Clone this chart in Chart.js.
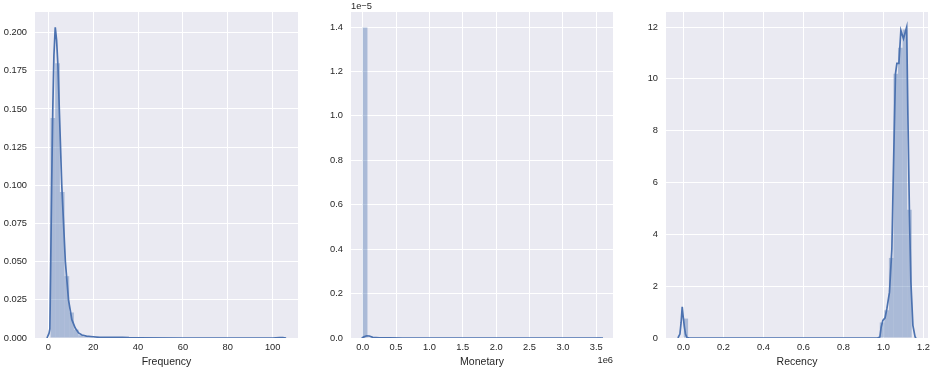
<!DOCTYPE html>
<html>
<head>
<meta charset="utf-8">
<script src="https://cdn.jsdelivr.net/npm/chart.js@4.4.0/dist/chart.umd.min.js"></script>
<style>
  body { margin: 0; background: #fff; width: 933px; height: 377px; overflow: hidden; position: relative; }
  canvas { position: absolute; top: 0; }
</style>
</head>
<body>
<canvas id="freqChart" width="298" height="377" style="left:0px"></canvas>
<canvas id="monChart" width="313" height="377" style="left:300px"></canvas>
<canvas id="recChart" width="313" height="377" style="left:620px"></canvas>
<script>
// ---- Frequency ----
const freqBinStart = 1;
const freqBinWidth = 2.08;
const freqHist = [0.144, 0.180, 0.0956, 0.0405, 0.0167, 0.0055, 0.0018, 0.0008, 0.0005, 0.0004,
                  0.0003, 0.0001, 0.0002, 0.0003, 0.0002, 0.0002, 0.0001, 0, 0, 0,
                  0, 0, 0, 0, 0, 0, 0, 0, 0, 0,
                  0, 0, 0, 0, 0, 0, 0, 0, 0, 0,
                  0, 0, 0, 0, 0, 0, 0, 0, 0.0001, 0.0002];
const freqKdeX = [-0.6, 0.3, 0.7, 1.0, 1.5, 2.0, 2.5, 3.1, 3.7, 4.3, 4.9, 6.0, 7.6, 9.0, 10.5,
                  12.0, 13.5, 15, 17, 20, 23, 27, 30, 33, 36, 40, 60, 80, 100, 103, 104.5, 106];
const freqKdeY = [0, 0.003, 0.006, 0.04, 0.1, 0.15, 0.185, 0.2035, 0.195, 0.178, 0.15, 0.1, 0.05, 0.025, 0.012,
                  0.0065, 0.0033, 0.002, 0.0012, 0.0008, 0.0004, 0.0004, 0.0005, 0.0004, 0.0002, 0.0001, 0, 0, 0, 0.0003, 0.0003, 0];
const freqXTicks = [0, 20, 40, 60, 80, 100];
const freqYTicks = [0, 0.025, 0.05, 0.075, 0.1, 0.125, 0.15, 0.175, 0.2];

// ---- Monetary ----
const monBinStart = 0;
const monBinWidth = 71400;
const monHist = [1.398e-5, 1.6e-8, 8e-9, 4e-9, 2e-9, 1e-9, 1e-9, 0, 0, 0,
                 0, 0, 0, 0, 0, 0, 0, 0, 0, 0,
                 0, 0, 0, 0, 0, 0, 0, 0, 0, 0,
                 0, 0, 0, 0, 0, 0, 0, 0, 0, 0,
                 0, 0, 0, 0, 0, 0, 0, 0, 0, 3e-10];
const monKdeX = [-15000, 20000, 60000, 100000, 150000, 250000, 400000, 600000, 3600000];
const monKdeY = [0, 5e-8, 1e-7, 9e-8, 3e-8, 1e-8, 3e-9, 0, 0];
const monXTicks = [0, 500000, 1000000, 1500000, 2000000, 2500000, 3000000, 3500000];
const monYTicks = [0, 0.2e-5, 0.4e-5, 0.6e-5, 0.8e-5, 1.0e-5, 1.2e-5, 1.4e-5];

// ---- Recency ----
const recBinStart = 0;
const recBinWidth = 0.022826;
const recHist = [0.75, 0, 0, 0, 0, 0, 0, 0, 0, 0,
                 0, 0, 0, 0, 0, 0, 0, 0, 0, 0,
                 0, 0, 0, 0, 0, 0, 0, 0, 0, 0,
                 0, 0, 0, 0, 0, 0, 0, 0, 0, 0,
                 0, 0, 0, 0.6, 1.07, 3.09, 10.2, 11.2, 11.9, 4.95];
const recKdeX = [-0.028, -0.018, -0.012, -0.0065, -0.002, 0.004, 0.01, 0.017, 0.03,
                 0.97, 0.982, 0.9885, 0.997, 1.008, 1.017, 1.03, 1.042, 1.05, 1.06, 1.067, 1.077,
                 1.087, 1.1, 1.116, 1.122, 1.13, 1.137, 1.147, 1.158, 1.163];
const recKdeY = [0, 0.15, 0.6, 1.2, 0.85, 0.45, 0.15, 0.02, 0,
                 0, 0.04, 0.42, 0.68, 0.78, 1.13, 1.77, 3.45, 6.6, 10.2, 10.6, 10.6,
                 11.87, 11.55, 12.0, 8.6, 4.7, 2.16, 0.49, 0.04, 0];
const recXTicks = [0, 0.2, 0.4, 0.6, 0.8, 1.0, 1.2];
const recYTicks = [0, 2, 4, 6, 8, 10, 12];

const BLUE = '#4C72B0';
const TEXT = '#262626';
const FONT = '"Liberation Sans", Arial, sans-serif';

function histPoints(start, width, hist) {
  return hist.map((h, i) => ({ x: start + (i + 0.5) * width, y: h }));
}
function linePoints(xs, ys) {
  return xs.map((x, i) => ({ x: x, y: ys[i] }));
}

// axes background like seaborn darkgrid
const bgPlugin = {
  id: 'bg',
  beforeDraw(chart) {
    const a = chart.chartArea, ctx = chart.ctx;
    ctx.save();
    ctx.fillStyle = '#EAEAF2';
    ctx.fillRect(a.left, a.top, a.right - a.left, a.bottom - a.top);
    ctx.restore();
  }
};

function makePanel(id, cfg) {
  const extra = [bgPlugin];
  if (cfg.offsetText) {
    extra.push({
      id: 'offsets',
      afterDraw(chart) {
        const a = chart.chartArea, ctx = chart.ctx;
        ctx.save();
        ctx.fillStyle = TEXT;
        ctx.font = '9.3px ' + FONT;
        ctx.textBaseline = 'middle';
        ctx.textAlign = 'left';
        ctx.fillText(cfg.offsetText.y, a.left, 6);
        ctx.textAlign = 'right';
        ctx.fillText(cfg.offsetText.x, a.right, 360);
        ctx.restore();
      }
    });
  }
  return new Chart(document.getElementById(id), {
    type: 'bar',
    data: {
      datasets: [
        {
          type: 'line',
          data: linePoints(cfg.kdeX, cfg.kdeY),
          borderColor: BLUE,
          borderWidth: 1.7,
          pointRadius: 0,
          tension: 0,
          fill: false,
          order: 0
        },
        {
          type: 'bar',
          data: histPoints(cfg.binStart, cfg.binWidth, cfg.hist),
          backgroundColor: 'rgba(76,114,176,0.4)',
          borderWidth: 0,
          barPercentage: 1,
          categoryPercentage: 1,
          inflateAmount: 0,
          grouped: false,
          order: 1
        }
      ]
    },
    options: {
      responsive: false,
      animation: false,
      devicePixelRatio: 1,
      layout: { padding: { top: 12, left: 0, right: cfg.padRight || 0, bottom: 0 } },
      plugins: { legend: { display: false }, tooltip: { enabled: false } },
      scales: {
        x: {
          type: 'linear',
          offset: false,
          min: cfg.xMin,
          max: cfg.xMax,
          grid: { color: '#ffffff', lineWidth: 1, drawTicks: false, offset: false },
          border: { display: false },
          ticks: {
            color: TEXT,
            padding: 4,
            maxRotation: 0,
            font: { family: FONT, size: 9.3 },
            callback: cfg.xFmt
          },
          title: {
            display: true,
            text: cfg.title,
            color: TEXT,
            font: { family: FONT, size: 10.5 },
            padding: { top: 2, bottom: 9 }
          },
          afterBuildTicks(scale) { scale.ticks = cfg.xTicks.map(v => ({ value: v })); },
          afterFit(scale) { scale.height = 39; scale.paddingLeft = 0; scale.paddingRight = 0; }
        },
        y: {
          type: 'linear',
          min: 0,
          max: cfg.yMax,
          grid: { color: '#ffffff', lineWidth: 1, drawTicks: false },
          border: { display: false },
          ticks: {
            color: TEXT,
            padding: 8,
            font: { family: FONT, size: 9.3 },
            callback: cfg.yFmt
          },
          afterBuildTicks(scale) { scale.ticks = cfg.yTicks.map(v => ({ value: v })); },
          afterFit(scale) { scale.width = cfg.yWidth; scale.paddingTop = 0; scale.paddingBottom = 0; }
        }
      }
    },
    plugins: extra
  });
}

makePanel('freqChart', {
  binStart: freqBinStart, binWidth: freqBinWidth, hist: freqHist,
  kdeX: freqKdeX, kdeY: freqKdeY,
  xTicks: freqXTicks, yTicks: freqYTicks,
  xMin: -5.93, xMax: 111.3, yMax: 0.2135, yWidth: 35,
  title: 'Frequency',
  xFmt: v => String(v),
  yFmt: v => v.toFixed(3)
});

makePanel('monChart', {
  binStart: monBinStart, binWidth: monBinWidth, hist: monHist,
  kdeX: monKdeX, kdeY: monKdeY,
  xTicks: monXTicks, yTicks: monYTicks,
  xMin: -175000, xMax: 3750000, yMax: 1.468e-5, yWidth: 51,
  title: 'Monetary',
  xFmt: v => (v / 1e6).toFixed(1),
  yFmt: v => (v / 1e-5).toFixed(1),
  offsetText: { x: '1e6', y: '1e\u22125' }
});

makePanel('recChart', {
  binStart: recBinStart, binWidth: recBinWidth, hist: recHist,
  kdeX: recKdeX, kdeY: recKdeY,
  xTicks: recXTicks, yTicks: recYTicks,
  xMin: -0.0876, xMax: 1.2226, yMax: 12.58, yWidth: 46, padRight: 5,
  title: 'Recency',
  xFmt: v => v.toFixed(1),
  yFmt: v => String(v)
});
</script>
</body>
</html>
